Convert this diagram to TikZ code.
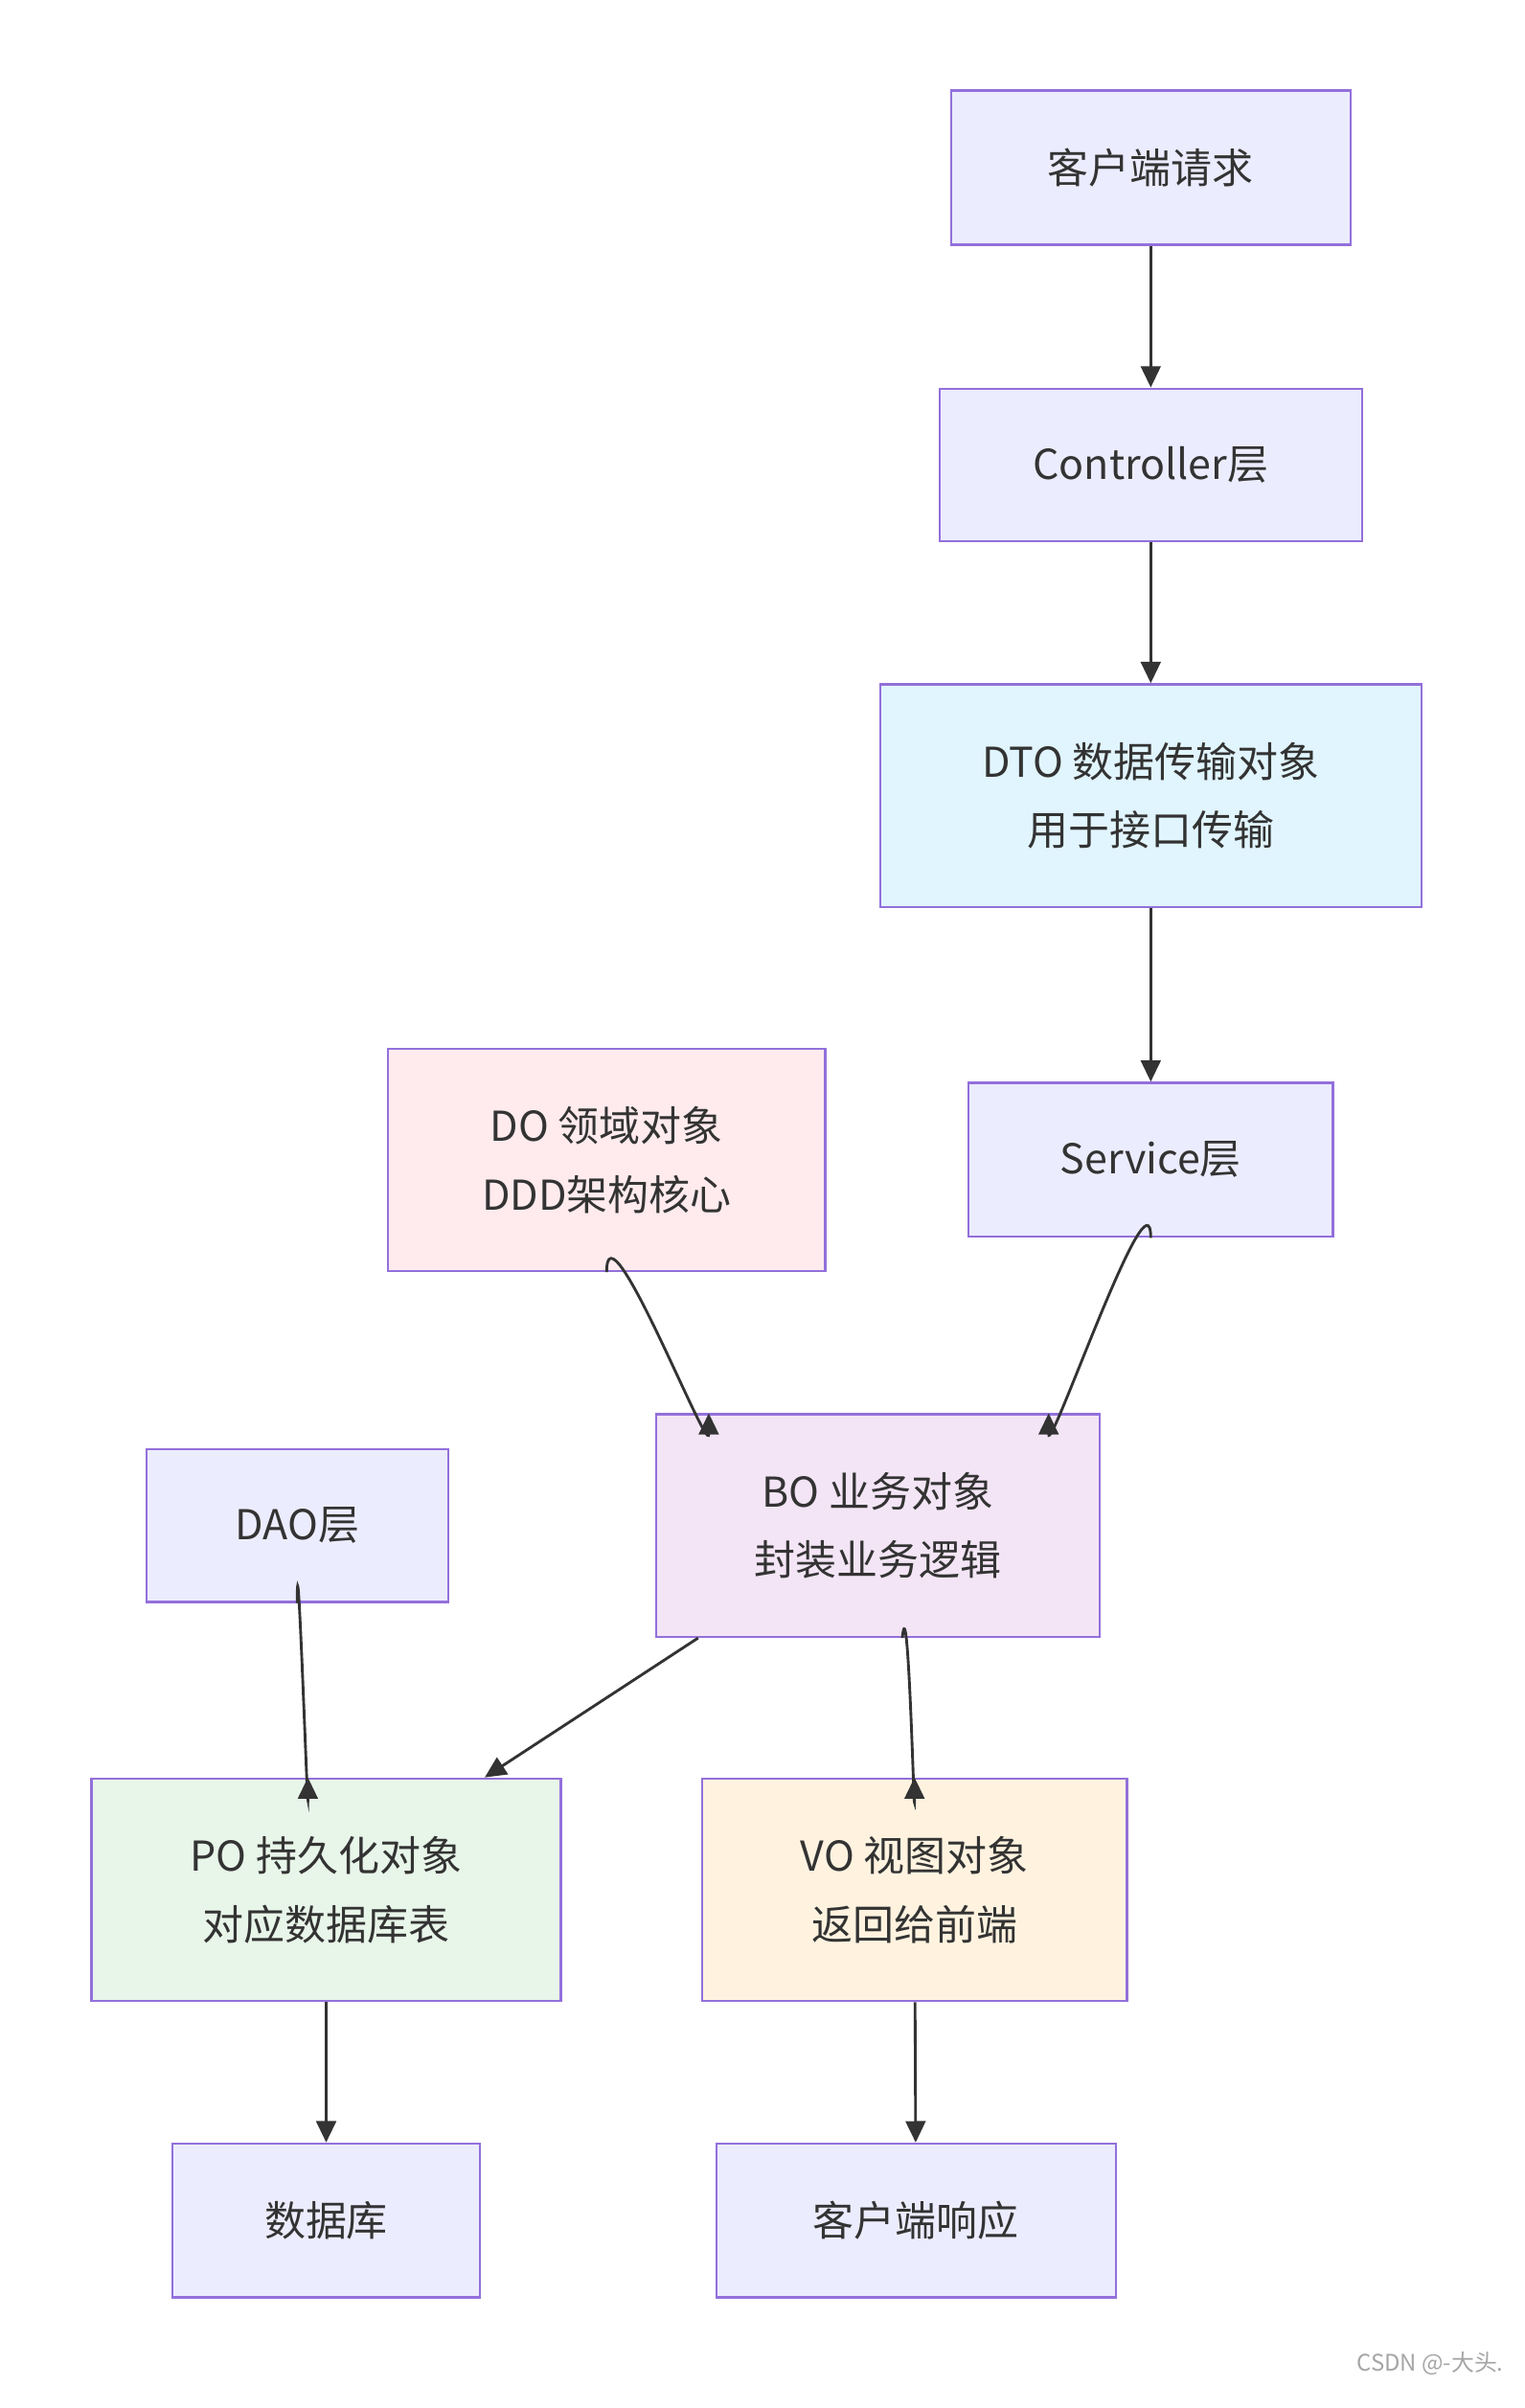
\documentclass[tikz,border=0pt]{standalone}
\usepackage{fontspec}
\setmainfont{Noto Sans CJK SC}
\usetikzlibrary{arrows.meta}
\definecolor{bx}{HTML}{ECECFF}
\definecolor{st}{HTML}{9370DB}
\definecolor{ln}{HTML}{333333}
\tikzset{
 box/.style={draw=st,line width=1.5pt,fill=bx,inner sep=0pt,align=center,font=\fontsize{27}{45}\selectfont,text=ln},
 ar/.style={draw=ln,line width=1.8pt,-{Triangle[length=14pt,width=13pt]}}
}
\begin{document}
\begin{tikzpicture}[x=1pt,y=-1pt]
\useasboundingbox[fill=white] (0,0) rectangle (1000,1580);
\node[box,minimum width=262pt,minimum height=101pt] (req) at (755,110) {客户端请求};
\node[box,minimum width=277pt,minimum height=100pt] (ctl) at (755,305) {Controller层};
\node[box,fill={rgb,255:red,225;green,245;blue,254},minimum width=355pt,minimum height=146pt] (dto) at (755,522) {DTO 数据传输对象\\用于接口传输};
\node[box,minimum width=239pt,minimum height=101pt] (svc) at (755,761) {Service层};
\node[box,fill={rgb,255:red,255;green,235;blue,238},minimum width=287pt,minimum height=146pt] (do) at (398,761) {DO 领域对象\\DDD架构核心};
\node[box,fill={rgb,255:red,243;green,229;blue,245},minimum width=291pt,minimum height=146pt] (bo) at (576,1001) {BO 业务对象\\封装业务逻辑};
\node[box,minimum width=198pt,minimum height=100pt] (dao) at (195,1001) {DAO层};
\node[box,fill={rgb,255:red,232;green,245;blue,233},minimum width=308pt,minimum height=146pt] (po) at (214,1240) {PO 持久化对象\\对应数据库表};
\node[box,fill={rgb,255:red,255;green,243;blue,224},minimum width=279pt,minimum height=146pt] (vo) at (600,1240) {VO 视图对象\\返回给前端};
\node[box,minimum width=202pt,minimum height=101pt] (db) at (214,1457) {数据库};
\node[box,minimum width=262pt,minimum height=101pt] (resp) at (601,1457) {客户端响应};
\node[font=\fontsize{15}{18}\selectfont,text=gray!70,anchor=east] (wm) at (990,1551) {CSDN @-大头.};
\draw[ar] (req) -- (ctl);
\draw[ar] (ctl) -- (dto);
\draw[ar] (dto) -- (svc);
\draw[ar] (do.south) .. controls ([yshift=50pt]do.south) and ([xshift=-111pt,yshift=-30pt]bo.north) .. ([xshift=-111pt]bo.north);
\draw[ar] (svc.south) .. controls ([yshift=50pt]svc.south) and ([xshift=112pt,yshift=-30pt]bo.north) .. ([xshift=112pt]bo.north);
\draw[ar] ([xshift=-118pt]bo.south) -- ([xshift=104pt]po.north);
\draw[ar] ([xshift=16pt]bo.south) .. controls ([xshift=20pt,yshift=40pt]bo.south) and ([yshift=-40pt]vo.north) .. (vo.north);
\draw[ar] (dao.south) .. controls ([yshift=60pt]dao.south) and ([xshift=-12pt,yshift=-30pt]po.north) .. ([xshift=-12pt]po.north);
\draw[ar] (po) -- (db);
\draw[ar] (vo) -- (resp);
\end{tikzpicture}
\end{document}
